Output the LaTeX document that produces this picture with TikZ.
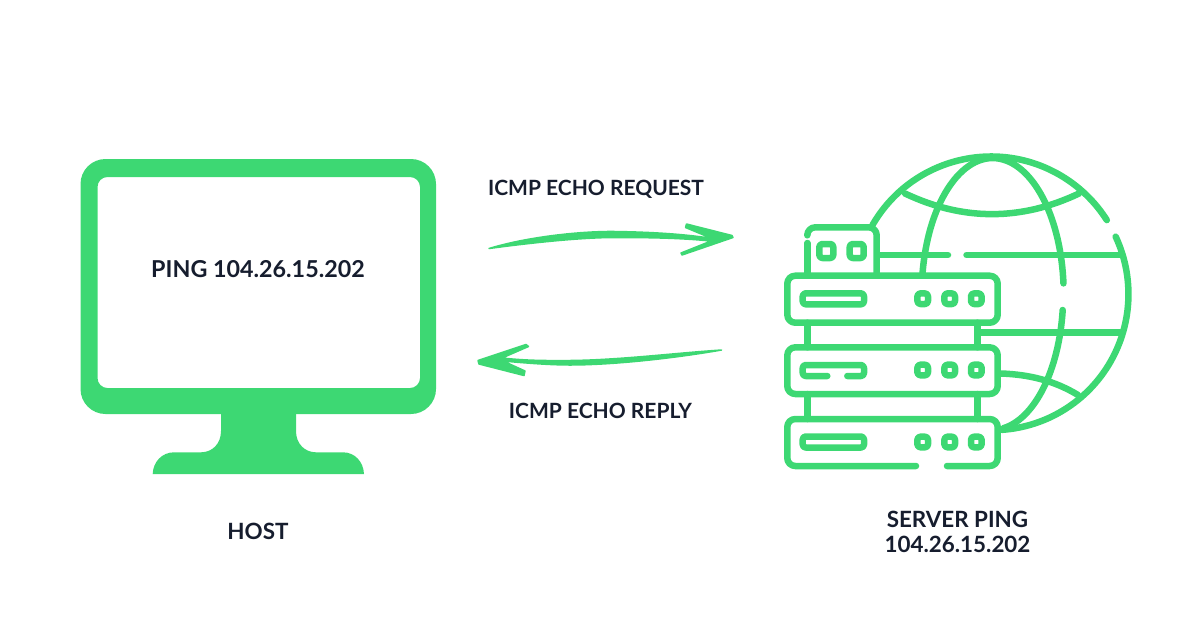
\documentclass[tikz,border=0pt]{standalone}
\usepackage{fontspec}
\setmainfont{Lato}
\usetikzlibrary{calc,positioning}
\definecolor{pinggreen}{HTML}{3DD873}
\definecolor{pinginkdark}{HTML}{161D2E}
\tikzset{%
    txt/.style={%
        font=\fontsize{21}{25}\selectfont\bfseries, text=pinginkdark, align=center, inner sep=0pt
    },
    txt_large/.style={%
        txt, font=\fontsize{22.4}{25}\selectfont\bfseries
    },
    wire/.style={%
        draw=pinggreen, line width=6.5pt, line cap=round, line join=round
    },
    casing/.style={%
        wire, rounded corners=8pt
    },
    pill/.style={%
        wire, rounded corners=3pt
    },
    brush/.style={%
        fill=pinggreen, draw=pinggreen, line width=1.5pt, line join=round
    },
    solidgreen/.style={%
        fill=pinggreen, even odd rule
    },
}

\begin{document}
\begin{tikzpicture}[x=1pt,y=-1pt]

    \useasboundingbox (0,0) rectangle (1200,630);

    \fill[solidgreen] [rounded corners=25pt] (80.5,159) rectangle (436,414)
      [rounded corners=10pt] (97.5,177) rectangle (420,388);
    \fill[solidgreen] (221,410) -- (221,431) .. controls (221,444) and (212,452.3) .. (201,452.3)
      -- (174,452.3) .. controls (162,452.3) and (153,462) .. (152.7,474) -- (364,474)
      .. controls (363.5,462) and (355,452.3) .. (343,452.3) -- (316,452.3)
      .. controls (305,452.3) and (296,444) .. (296,431) -- (296,410) -- cycle;

    \node[txt_large, font=\fontsize{23.3}{25}\selectfont\bfseries] (command) at (258,269) {PING 104.26.15.202};
    \node[txt_large] (host) at (258,531.5) {HOST};
    \node[txt] (request) at (596,189.5) {ICMP ECHO REQUEST};
    \node[txt] (reply) at (600.5,411) {ICMP ECHO REPLY};
    \node[txt_large] (server) at (957.5,531.5) {SERVER PING\\104.26.15.202};

    \coordinate (request_start) at (489,248.5);
    \coordinate (request_end) at (733,237.5);
    \coordinate (reply_start) at (721.5,350);
    \coordinate (reply_end) at (478,360.5);

    \filldraw[brush] (request_start) .. controls (530,236) and (585,231) .. (615,231.5)
      .. controls (650,232) and (685,234) .. (712,238.5) -- (685.5,227.5) -- (686.5,224)
      -- (732,235.5) -- (request_end) -- (682,255) -- (681,253)
      -- (711,241) .. controls (680,238) and (650,237.5) .. (615,237.5)
      .. controls (580,237.5) and (530,243) .. (request_start) -- cycle;

    \filldraw[brush] (reply_start) .. controls (670,359) and (610,365) .. (570,365)
      .. controls (550,365) and (525,363) .. (503,361) -- (525,371) -- (524,375.5)
      -- (479,364) -- (reply_end) -- (526,344.5) -- (528.5,346.5)
      -- (502,358) .. controls (530,361) and (550,360.5) .. (570,360.5)
      .. controls (620,360) and (675,353) .. (reply_start) -- cycle;

    \draw[wire] (872.5,225) arc[start angle=210, end angle=327.6, radius=137];
    \draw[wire] (1115.7,236.7) arc[start angle=-25, end angle=86, radius=136];
    \draw[wire] (922.5,273.5) arc[start angle=188.7, end angle=355.5, x radius=71, y radius=136];
    \draw[wire] (1062.7,310) arc[start angle=6.8, end angle=81, x radius=71, y radius=136];
    \draw[wire] (905,193.5) .. controls (963,221) and (1021,221) .. (1079,193.5);
    \draw[wire] (1001,373.5) .. controls (1030,374.5) and (1055,381) .. (1078,395);
    \draw[wire] (880,255) -- (948,255);
    \draw[wire] (966.5,255) -- (1120,255);
    \draw[wire] (980,332.7) -- (1120,332.7);

    \draw[wire] (807.3,243) -- (807.3,275);
    \draw[casing] (807.3,234) -- (807.3,227.3) -- (876.7,227.3) -- (876.7,275);
    \foreach \x in {826.3,856.7}
      \draw[pill] (\x-7,244) rectangle (\x+7,258);

    \draw[casing] (787.3,275.7) rectangle (997.7,322.7);
    \draw[casing] (787.3,347.3) rectangle (997.7,394);
    \draw[casing] (916,466) -- (787.3,466) -- (787.3,419) -- (997.7,419) -- (997.7,466) -- (947,466);

    \foreach \x in {807.3,977.3} {
      \draw[wire] (\x,322.7) -- (\x,347.3);
      \draw[wire] (\x,394) -- (\x,419);
    }

    \draw[pill] (802.7,293.3) rectangle (864,304.3);
    \draw[pill] (827.3,376) -- (802.7,376) -- (802.7,365) -- (864,365) -- (864,376) -- (847.3,376);
    \draw[pill] (802.7,436.5) rectangle (864,447.5);

    \foreach \y in {298.7,370,442}
      \foreach \x in {922.7,949.7,976.3}
        \draw[pill] (\x-5.3,\y-5.3) rectangle (\x+5.3,\y+5.3);

\end{tikzpicture}
\end{document}
